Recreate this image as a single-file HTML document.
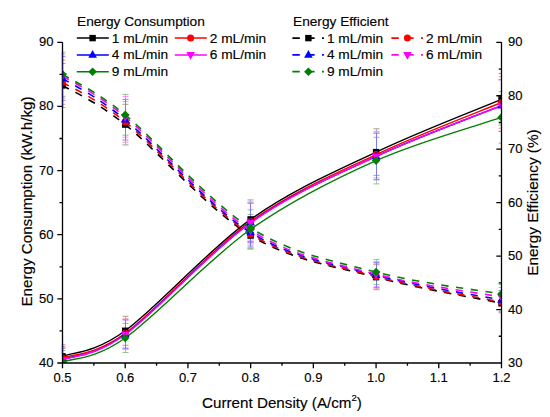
<!DOCTYPE html><html><head><meta charset="utf-8"><style>html,body{margin:0;padding:0;background:#fff;overflow:hidden;}svg{display:block;}text{font-family:"Liberation Sans",sans-serif;stroke:#000;stroke-width:0.15px;}</style></head><body>
<svg width="550" height="417" viewBox="0 0 550 417">
<rect width="550" height="417" fill="#fff"/>
<defs><clipPath id="pc"><rect x="62.5" y="0" width="439" height="363"/></clipPath></defs>
<g clip-path="url(#pc)">
<path d="M62.50,344.80 V367.80" stroke="#a0a0a0" stroke-width="0.8" fill="none"/><path d="M59.50,344.80 H65.50 M59.50,367.80 H65.50" stroke="#a0a0a0" stroke-width="1" fill="none"/>
<path d="M62.50,63.45 V107.45" stroke="#a0a0a0" stroke-width="0.8" fill="none"/><path d="M59.50,63.45 H65.50 M59.50,107.45 H65.50" stroke="#a0a0a0" stroke-width="1" fill="none"/>
<path d="M125.50,316.25 V345.25" stroke="#a0a0a0" stroke-width="0.8" fill="none"/><path d="M122.50,316.25 H128.50 M122.50,345.25 H128.50" stroke="#a0a0a0" stroke-width="1" fill="none"/>
<path d="M125.50,104.30 V144.90" stroke="#a0a0a0" stroke-width="0.8" fill="none"/><path d="M122.50,104.30 H128.50 M122.50,144.90 H128.50" stroke="#a0a0a0" stroke-width="1" fill="none"/>
<path d="M250.50,199.90 V238.90" stroke="#a0a0a0" stroke-width="0.8" fill="none"/><path d="M247.50,199.90 H253.50 M247.50,238.90 H253.50" stroke="#a0a0a0" stroke-width="1" fill="none"/>
<path d="M250.50,222.00 V249.00" stroke="#a0a0a0" stroke-width="0.8" fill="none"/><path d="M247.50,222.00 H253.50 M247.50,249.00 H253.50" stroke="#a0a0a0" stroke-width="1" fill="none"/>
<path d="M376.50,128.80 V175.40" stroke="#a0a0a0" stroke-width="0.8" fill="none"/><path d="M373.50,128.80 H379.50 M373.50,175.40 H379.50" stroke="#a0a0a0" stroke-width="1" fill="none"/>
<path d="M376.50,264.70 V289.70" stroke="#a0a0a0" stroke-width="0.8" fill="none"/><path d="M373.50,264.70 H379.50 M373.50,289.70 H379.50" stroke="#a0a0a0" stroke-width="1" fill="none"/>
<path d="M501.50,73.50 V125.10" stroke="#a0a0a0" stroke-width="0.8" fill="none"/><path d="M498.50,73.50 H504.50 M498.50,125.10 H504.50" stroke="#a0a0a0" stroke-width="1" fill="none"/>
<path d="M501.50,293.70 V312.70" stroke="#a0a0a0" stroke-width="0.8" fill="none"/><path d="M498.50,293.70 H504.50 M498.50,312.70 H504.50" stroke="#a0a0a0" stroke-width="1" fill="none"/>
<path d="M62.50,346.50 V369.50" stroke="#ff9898" stroke-width="0.8" fill="none"/><path d="M59.50,346.50 H65.50 M59.50,369.50 H65.50" stroke="#ff9898" stroke-width="1" fill="none"/>
<path d="M62.50,60.25 V104.25" stroke="#ff9898" stroke-width="0.8" fill="none"/><path d="M59.50,60.25 H65.50 M59.50,104.25 H65.50" stroke="#ff9898" stroke-width="1" fill="none"/>
<path d="M125.50,318.80 V347.80" stroke="#ff9898" stroke-width="0.8" fill="none"/><path d="M122.50,318.80 H128.50 M122.50,347.80 H128.50" stroke="#ff9898" stroke-width="1" fill="none"/>
<path d="M125.50,101.60 V142.20" stroke="#ff9898" stroke-width="0.8" fill="none"/><path d="M122.50,101.60 H128.50 M122.50,142.20 H128.50" stroke="#ff9898" stroke-width="1" fill="none"/>
<path d="M250.50,201.90 V240.90" stroke="#ff9898" stroke-width="0.8" fill="none"/><path d="M247.50,201.90 H253.50 M247.50,240.90 H253.50" stroke="#ff9898" stroke-width="1" fill="none"/>
<path d="M250.50,220.60 V247.60" stroke="#ff9898" stroke-width="0.8" fill="none"/><path d="M247.50,220.60 H253.50 M247.50,247.60 H253.50" stroke="#ff9898" stroke-width="1" fill="none"/>
<path d="M376.50,131.30 V177.90" stroke="#ff9898" stroke-width="0.8" fill="none"/><path d="M373.50,131.30 H379.50 M373.50,177.90 H379.50" stroke="#ff9898" stroke-width="1" fill="none"/>
<path d="M376.50,263.90 V288.90" stroke="#ff9898" stroke-width="0.8" fill="none"/><path d="M373.50,263.90 H379.50 M373.50,288.90 H379.50" stroke="#ff9898" stroke-width="1" fill="none"/>
<path d="M501.50,76.70 V128.30" stroke="#ff9898" stroke-width="0.8" fill="none"/><path d="M498.50,76.70 H504.50 M498.50,128.30 H504.50" stroke="#ff9898" stroke-width="1" fill="none"/>
<path d="M501.50,292.50 V311.50" stroke="#ff9898" stroke-width="0.8" fill="none"/><path d="M498.50,292.50 H504.50 M498.50,311.50 H504.50" stroke="#ff9898" stroke-width="1" fill="none"/>
<path d="M62.50,348.30 V371.30" stroke="#ff88ff" stroke-width="0.8" fill="none"/><path d="M59.50,348.30 H65.50 M59.50,371.30 H65.50" stroke="#ff88ff" stroke-width="1" fill="none"/>
<path d="M62.50,54.05 V98.05" stroke="#ff88ff" stroke-width="0.8" fill="none"/><path d="M59.50,54.05 H65.50 M59.50,98.05 H65.50" stroke="#ff88ff" stroke-width="1" fill="none"/>
<path d="M125.50,320.00 V349.00" stroke="#ff88ff" stroke-width="0.8" fill="none"/><path d="M122.50,320.00 H128.50 M122.50,349.00 H128.50" stroke="#ff88ff" stroke-width="1" fill="none"/>
<path d="M125.50,96.60 V137.20" stroke="#ff88ff" stroke-width="0.8" fill="none"/><path d="M122.50,96.60 H128.50 M122.50,137.20 H128.50" stroke="#ff88ff" stroke-width="1" fill="none"/>
<path d="M250.50,203.30 V242.30" stroke="#ff88ff" stroke-width="0.8" fill="none"/><path d="M247.50,203.30 H253.50 M247.50,242.30 H253.50" stroke="#ff88ff" stroke-width="1" fill="none"/>
<path d="M250.50,217.00 V244.00" stroke="#ff88ff" stroke-width="0.8" fill="none"/><path d="M247.50,217.00 H253.50 M247.50,244.00 H253.50" stroke="#ff88ff" stroke-width="1" fill="none"/>
<path d="M376.50,133.20 V179.80" stroke="#ff88ff" stroke-width="0.8" fill="none"/><path d="M373.50,133.20 H379.50 M373.50,179.80 H379.50" stroke="#ff88ff" stroke-width="1" fill="none"/>
<path d="M376.50,261.70 V286.70" stroke="#ff88ff" stroke-width="0.8" fill="none"/><path d="M373.50,261.70 H379.50 M373.50,286.70 H379.50" stroke="#ff88ff" stroke-width="1" fill="none"/>
<path d="M501.50,79.70 V131.30" stroke="#ff88ff" stroke-width="0.8" fill="none"/><path d="M498.50,79.70 H504.50 M498.50,131.30 H504.50" stroke="#ff88ff" stroke-width="1" fill="none"/>
<path d="M501.50,287.50 V306.50" stroke="#ff88ff" stroke-width="0.8" fill="none"/><path d="M498.50,287.50 H504.50 M498.50,306.50 H504.50" stroke="#ff88ff" stroke-width="1" fill="none"/>
<path d="M62.50,350.50 V373.50" stroke="#88c488" stroke-width="0.8" fill="none"/><path d="M59.50,350.50 H65.50 M59.50,373.50 H65.50" stroke="#88c488" stroke-width="1" fill="none"/>
<path d="M62.50,52.25 V96.25" stroke="#88c488" stroke-width="0.8" fill="none"/><path d="M59.50,52.25 H65.50 M59.50,96.25 H65.50" stroke="#88c488" stroke-width="1" fill="none"/>
<path d="M125.50,323.45 V352.45" stroke="#88c488" stroke-width="0.8" fill="none"/><path d="M122.50,323.45 H128.50 M122.50,352.45 H128.50" stroke="#88c488" stroke-width="1" fill="none"/>
<path d="M125.50,94.60 V135.20" stroke="#88c488" stroke-width="0.8" fill="none"/><path d="M122.50,94.60 H128.50 M122.50,135.20 H128.50" stroke="#88c488" stroke-width="1" fill="none"/>
<path d="M250.50,209.80 V248.80" stroke="#88c488" stroke-width="0.8" fill="none"/><path d="M247.50,209.80 H253.50 M247.50,248.80 H253.50" stroke="#88c488" stroke-width="1" fill="none"/>
<path d="M250.50,214.50 V241.50" stroke="#88c488" stroke-width="0.8" fill="none"/><path d="M247.50,214.50 H253.50 M247.50,241.50 H253.50" stroke="#88c488" stroke-width="1" fill="none"/>
<path d="M376.50,137.30 V183.90" stroke="#88c488" stroke-width="0.8" fill="none"/><path d="M373.50,137.30 H379.50 M373.50,183.90 H379.50" stroke="#88c488" stroke-width="1" fill="none"/>
<path d="M376.50,259.60 V284.60" stroke="#88c488" stroke-width="0.8" fill="none"/><path d="M373.50,259.60 H379.50 M373.50,284.60 H379.50" stroke="#88c488" stroke-width="1" fill="none"/>
<path d="M501.50,91.60 V143.20" stroke="#88c488" stroke-width="0.8" fill="none"/><path d="M498.50,91.60 H504.50 M498.50,143.20 H504.50" stroke="#88c488" stroke-width="1" fill="none"/>
<path d="M501.50,284.50 V303.50" stroke="#88c488" stroke-width="0.8" fill="none"/><path d="M498.50,284.50 H504.50 M498.50,303.50 H504.50" stroke="#88c488" stroke-width="1" fill="none"/>
<path d="M62.50,348.10 V371.10" stroke="#6c6cff" stroke-width="0.8" fill="none"/><path d="M59.50,348.10 H65.50 M59.50,371.10 H65.50" stroke="#8888ff" stroke-width="1" fill="none"/>
<path d="M62.50,56.35 V100.35" stroke="#6c6cff" stroke-width="0.8" fill="none"/><path d="M59.50,56.35 H65.50 M59.50,100.35 H65.50" stroke="#8888ff" stroke-width="1" fill="none"/>
<path d="M125.50,319.80 V348.80" stroke="#6c6cff" stroke-width="0.8" fill="none"/><path d="M122.50,319.80 H128.50 M122.50,348.80 H128.50" stroke="#8888ff" stroke-width="1" fill="none"/>
<path d="M125.50,99.40 V140.00" stroke="#6c6cff" stroke-width="0.8" fill="none"/><path d="M122.50,99.40 H128.50 M122.50,140.00 H128.50" stroke="#8888ff" stroke-width="1" fill="none"/>
<path d="M250.50,203.10 V242.10" stroke="#6c6cff" stroke-width="0.8" fill="none"/><path d="M247.50,203.10 H253.50 M247.50,242.10 H253.50" stroke="#8888ff" stroke-width="1" fill="none"/>
<path d="M250.50,219.00 V246.00" stroke="#6c6cff" stroke-width="0.8" fill="none"/><path d="M247.50,219.00 H253.50 M247.50,246.00 H253.50" stroke="#8888ff" stroke-width="1" fill="none"/>
<path d="M376.50,133.10 V179.70" stroke="#6c6cff" stroke-width="0.8" fill="none"/><path d="M373.50,133.10 H379.50 M373.50,179.70 H379.50" stroke="#8888ff" stroke-width="1" fill="none"/>
<path d="M376.50,262.60 V287.60" stroke="#6c6cff" stroke-width="0.8" fill="none"/><path d="M373.50,262.60 H379.50 M373.50,287.60 H379.50" stroke="#8888ff" stroke-width="1" fill="none"/>
<path d="M501.50,79.80 V131.40" stroke="#6c6cff" stroke-width="0.8" fill="none"/><path d="M498.50,79.80 H504.50 M498.50,131.40 H504.50" stroke="#8888ff" stroke-width="1" fill="none"/>
<path d="M501.50,290.50 V309.50" stroke="#6c6cff" stroke-width="0.8" fill="none"/><path d="M498.50,290.50 H504.50 M498.50,309.50 H504.50" stroke="#8888ff" stroke-width="1" fill="none"/>
<path d="M62.50,356.30 C72.95,352.04 93.86,353.57 125.21,330.75 C156.57,307.93 208.83,249.18 250.64,219.40 C292.45,189.62 334.26,172.12 376.07,152.10 C417.88,132.08 480.59,108.10 501.50,99.30" stroke="#000000" stroke-width="1.4" fill="none"/>
<path d="M62.50,85.45 C72.95,91.97 93.86,99.59 125.21,124.60 C156.57,149.61 208.83,210.07 250.64,235.50 C292.45,260.93 334.26,265.92 376.07,277.20 C417.88,288.48 480.59,298.87 501.50,303.20" stroke="#000000" stroke-width="1.6" fill="none" stroke-dasharray="7.4 7.4"/>
<path d="M62.50,358.00 C72.95,353.88 93.86,356.07 125.21,333.30 C156.57,310.53 208.83,251.18 250.64,221.40 C292.45,191.62 334.26,174.42 376.07,154.60 C417.88,134.78 480.59,111.18 501.50,102.50" stroke="#ff0000" stroke-width="1.4" fill="none"/>
<path d="M62.50,82.25 C72.95,88.86 93.86,96.59 125.21,121.90 C156.57,147.21 208.83,208.35 250.64,234.10 C292.45,259.85 334.26,265.08 376.07,276.40 C417.88,287.72 480.59,297.73 501.50,302.00" stroke="#ff0000" stroke-width="1.6" fill="none" stroke-dasharray="7.4 7.4"/>
<path d="M62.50,359.60 C72.95,355.38 93.86,357.13 125.21,334.30 C156.57,311.47 208.83,252.25 250.64,222.60 C292.45,192.95 334.26,175.90 376.07,156.40 C417.88,136.90 480.59,114.07 501.50,105.60" stroke="#0000ff" stroke-width="1.4" fill="none"/>
<path d="M62.50,78.35 C72.95,85.24 93.86,94.01 125.21,119.70 C156.57,145.39 208.83,206.60 250.64,232.50 C292.45,258.40 334.26,263.85 376.07,275.10 C417.88,286.35 480.59,295.85 501.50,300.00" stroke="#0000ff" stroke-width="1.6" fill="none" stroke-dasharray="7.4 7.4"/>
<path d="M62.50,359.80 C72.95,355.58 93.86,357.33 125.21,334.50 C156.57,311.67 208.83,252.47 250.64,222.80 C292.45,193.13 334.26,176.05 376.07,156.50 C417.88,136.95 480.59,114.00 501.50,105.50" stroke="#ff00ff" stroke-width="1.4" fill="none"/>
<path d="M62.50,76.05 C72.95,82.86 93.86,91.16 125.21,116.90 C156.57,142.64 208.83,204.28 250.64,230.50 C292.45,256.72 334.26,263.12 376.07,274.20 C417.88,285.28 480.59,293.20 501.50,297.00" stroke="#ff00ff" stroke-width="1.6" fill="none" stroke-dasharray="7.4 7.4"/>
<path d="M62.50,362.00 C72.95,357.99 93.86,360.07 125.21,337.95 C156.57,315.83 208.83,258.86 250.64,229.30 C292.45,199.74 334.26,179.25 376.07,160.60 C417.88,141.95 480.59,124.60 501.50,117.40" stroke="#008000" stroke-width="1.4" fill="none"/>
<path d="M62.50,74.25 C72.95,81.03 93.86,89.28 125.21,114.90 C156.57,140.53 208.83,201.80 250.64,228.00 C292.45,254.20 334.26,261.10 376.07,272.10 C417.88,283.10 480.59,290.35 501.50,294.00" stroke="#008000" stroke-width="1.6" fill="none" stroke-dasharray="7.4 7.4"/>
<rect x="59.30" y="353.10" width="6.40" height="6.40" fill="#000000"/>
<rect x="59.30" y="82.25" width="6.40" height="6.40" fill="#000000"/>
<rect x="122.01" y="327.55" width="6.40" height="6.40" fill="#000000"/>
<rect x="122.01" y="121.40" width="6.40" height="6.40" fill="#000000"/>
<rect x="247.44" y="216.20" width="6.40" height="6.40" fill="#000000"/>
<rect x="247.44" y="232.30" width="6.40" height="6.40" fill="#000000"/>
<rect x="372.87" y="148.90" width="6.40" height="6.40" fill="#000000"/>
<rect x="372.87" y="274.00" width="6.40" height="6.40" fill="#000000"/>
<rect x="498.30" y="96.10" width="6.40" height="6.40" fill="#000000"/>
<rect x="498.30" y="300.00" width="6.40" height="6.40" fill="#000000"/>
<circle cx="62.50" cy="358.00" r="3.50" fill="#ff0000"/>
<circle cx="62.50" cy="82.25" r="3.50" fill="#ff0000"/>
<circle cx="125.21" cy="333.30" r="3.50" fill="#ff0000"/>
<circle cx="125.21" cy="121.90" r="3.50" fill="#ff0000"/>
<circle cx="250.64" cy="221.40" r="3.50" fill="#ff0000"/>
<circle cx="250.64" cy="234.10" r="3.50" fill="#ff0000"/>
<circle cx="376.07" cy="154.60" r="3.50" fill="#ff0000"/>
<circle cx="376.07" cy="276.40" r="3.50" fill="#ff0000"/>
<circle cx="501.50" cy="102.50" r="3.50" fill="#ff0000"/>
<circle cx="501.50" cy="302.00" r="3.50" fill="#ff0000"/>
<path d="M62.50,354.80 L66.80,362.40 L58.20,362.40 Z" fill="#0000ff"/>
<path d="M62.50,73.55 L66.80,81.15 L58.20,81.15 Z" fill="#0000ff"/>
<path d="M125.21,329.50 L129.51,337.10 L120.91,337.10 Z" fill="#0000ff"/>
<path d="M125.21,114.90 L129.51,122.50 L120.91,122.50 Z" fill="#0000ff"/>
<path d="M250.64,217.80 L254.94,225.40 L246.34,225.40 Z" fill="#0000ff"/>
<path d="M250.64,227.70 L254.94,235.30 L246.34,235.30 Z" fill="#0000ff"/>
<path d="M376.07,151.60 L380.37,159.20 L371.77,159.20 Z" fill="#0000ff"/>
<path d="M376.07,270.30 L380.37,277.90 L371.77,277.90 Z" fill="#0000ff"/>
<path d="M501.50,100.80 L505.80,108.40 L497.20,108.40 Z" fill="#0000ff"/>
<path d="M501.50,295.20 L505.80,302.80 L497.20,302.80 Z" fill="#0000ff"/>
<path d="M62.50,364.60 L66.80,357.00 L58.20,357.00 Z" fill="#ff00ff"/>
<path d="M62.50,80.85 L66.80,73.25 L58.20,73.25 Z" fill="#ff00ff"/>
<path d="M125.21,339.30 L129.51,331.70 L120.91,331.70 Z" fill="#ff00ff"/>
<path d="M125.21,121.70 L129.51,114.10 L120.91,114.10 Z" fill="#ff00ff"/>
<path d="M250.64,227.60 L254.94,220.00 L246.34,220.00 Z" fill="#ff00ff"/>
<path d="M250.64,235.30 L254.94,227.70 L246.34,227.70 Z" fill="#ff00ff"/>
<path d="M376.07,161.30 L380.37,153.70 L371.77,153.70 Z" fill="#ff00ff"/>
<path d="M376.07,279.00 L380.37,271.40 L371.77,271.40 Z" fill="#ff00ff"/>
<path d="M501.50,110.30 L505.80,102.70 L497.20,102.70 Z" fill="#ff00ff"/>
<path d="M501.50,301.80 L505.80,294.20 L497.20,294.20 Z" fill="#ff00ff"/>
<path d="M62.50,357.70 L66.80,362.00 L62.50,366.30 L58.20,362.00 Z" fill="#008000"/>
<path d="M62.50,69.95 L66.80,74.25 L62.50,78.55 L58.20,74.25 Z" fill="#008000"/>
<path d="M125.21,333.65 L129.51,337.95 L125.21,342.25 L120.91,337.95 Z" fill="#008000"/>
<path d="M125.21,110.60 L129.51,114.90 L125.21,119.20 L120.91,114.90 Z" fill="#008000"/>
<path d="M250.64,225.00 L254.94,229.30 L250.64,233.60 L246.34,229.30 Z" fill="#008000"/>
<path d="M250.64,223.70 L254.94,228.00 L250.64,232.30 L246.34,228.00 Z" fill="#008000"/>
<path d="M376.07,156.30 L380.37,160.60 L376.07,164.90 L371.77,160.60 Z" fill="#008000"/>
<path d="M376.07,267.80 L380.37,272.10 L376.07,276.40 L371.77,272.10 Z" fill="#008000"/>
<path d="M501.50,113.10 L505.80,117.40 L501.50,121.70 L497.20,117.40 Z" fill="#008000"/>
<path d="M501.50,289.70 L505.80,294.00 L501.50,298.30 L497.20,294.00 Z" fill="#008000"/>
</g>
<path d="M62.5,42.3 V363 H501.5 V42.3 M57.3,363.00 H62.5 M57.3,298.86 H62.5 M57.3,234.72 H62.5 M57.3,170.58 H62.5 M57.3,106.44 H62.5 M57.3,42.30 H62.5 M59.5,330.93 H62.5 M59.5,266.79 H62.5 M59.5,202.65 H62.5 M59.5,138.51 H62.5 M59.5,74.37 H62.5 M496.3,363.00 H501.5 M496.3,309.55 H501.5 M496.3,256.10 H501.5 M496.3,202.65 H501.5 M496.3,149.20 H501.5 M496.3,95.75 H501.5 M496.3,42.30 H501.5 M498.7,336.27 H501.5 M498.7,282.82 H501.5 M498.7,229.38 H501.5 M498.7,175.93 H501.5 M498.7,122.48 H501.5 M498.7,69.03 H501.5 M62.50,363 V368.3 M125.21,363 V368.3 M187.93,363 V368.3 M250.64,363 V368.3 M313.36,363 V368.3 M376.07,363 V368.3 M438.78,363 V368.3 M501.50,363 V368.3 M93.86,363 V365.8 M156.57,363 V365.8 M219.28,363 V365.8 M282.00,363 V365.8 M344.71,363 V365.8 M407.43,363 V365.8 M470.14,363 V365.8" stroke="#000" stroke-width="1.3" fill="none"/>
<path d="M62.5,52 V107 M62.5,345 V354" stroke="#18124e" stroke-width="1.3" fill="none"/>
<text x="53.5" y="367.00" font-size="13" text-anchor="end">40</text>
<text x="53.5" y="302.86" font-size="13" text-anchor="end">50</text>
<text x="53.5" y="238.72" font-size="13" text-anchor="end">60</text>
<text x="53.5" y="174.58" font-size="13" text-anchor="end">70</text>
<text x="53.5" y="110.44" font-size="13" text-anchor="end">80</text>
<text x="53.5" y="46.30" font-size="13" text-anchor="end">90</text>
<text x="508" y="367.00" font-size="13">30</text>
<text x="508" y="313.55" font-size="13">40</text>
<text x="508" y="260.10" font-size="13">50</text>
<text x="508" y="206.65" font-size="13">60</text>
<text x="508" y="153.20" font-size="13">70</text>
<text x="508" y="99.75" font-size="13">80</text>
<text x="508" y="46.30" font-size="13">90</text>
<text x="62.50" y="382.3" font-size="13" text-anchor="middle">0.5</text>
<text x="125.21" y="382.3" font-size="13" text-anchor="middle">0.6</text>
<text x="187.93" y="382.3" font-size="13" text-anchor="middle">0.7</text>
<text x="250.64" y="382.3" font-size="13" text-anchor="middle">0.8</text>
<text x="313.36" y="382.3" font-size="13" text-anchor="middle">0.9</text>
<text x="376.07" y="382.3" font-size="13" text-anchor="middle">1.0</text>
<text x="438.78" y="382.3" font-size="13" text-anchor="middle">1.1</text>
<text x="501.50" y="382.3" font-size="13" text-anchor="middle">1.2</text>
<text x="282" y="407.5" font-size="15.2" text-anchor="middle">Current Density (A/cm<tspan font-size="9.6" dy="-7">2</tspan><tspan dy="7">)</tspan></text>
<text transform="translate(32,201.5) rotate(-90)" font-size="15.2" text-anchor="middle">Energy Consumption (kW.h/kg)</text>
<text transform="translate(538,202.5) rotate(-90)" font-size="15.35" text-anchor="middle">Energy Efficiency (%)</text>
<text x="77" y="25.5" font-size="13.7">Energy Consumption</text>
<text x="293" y="25.5" font-size="13.7">Energy Efficient</text>
<path d="M76.80,38.10 H108.80" stroke="#000000" stroke-width="1.5"/>
<rect x="89.40" y="34.90" width="6.40" height="6.40" fill="#000000"/>
<text x="111.80" y="42.50" font-size="13.7">1 mL/min</text>
<path d="M292.40,38.10 H323.90" stroke="#000000" stroke-width="1.8" stroke-dasharray="7.4 7.4"/>
<rect x="305.20" y="34.90" width="6.40" height="6.40" fill="#000000"/>
<text x="326.90" y="42.50" font-size="13.7">1 mL/min</text>
<path d="M174.80,38.10 H206.80" stroke="#ff0000" stroke-width="1.5"/>
<circle cx="190.60" cy="38.10" r="3.50" fill="#ff0000"/>
<text x="209.80" y="42.50" font-size="13.7">2 mL/min</text>
<path d="M391.40,38.10 H422.90" stroke="#ff0000" stroke-width="1.8" stroke-dasharray="7.4 7.4"/>
<circle cx="407.40" cy="38.10" r="3.50" fill="#ff0000"/>
<text x="425.90" y="42.50" font-size="13.7">2 mL/min</text>
<path d="M76.80,54.90 H108.80" stroke="#0000ff" stroke-width="1.5"/>
<path d="M92.60,50.10 L96.90,57.70 L88.30,57.70 Z" fill="#0000ff"/>
<text x="111.80" y="59.30" font-size="13.7">4 mL/min</text>
<path d="M292.40,54.90 H323.90" stroke="#0000ff" stroke-width="1.8" stroke-dasharray="7.4 7.4"/>
<path d="M308.40,50.10 L312.70,57.70 L304.10,57.70 Z" fill="#0000ff"/>
<text x="326.90" y="59.30" font-size="13.7">4 mL/min</text>
<path d="M174.80,54.90 H206.80" stroke="#ff00ff" stroke-width="1.5"/>
<path d="M190.60,59.70 L194.90,52.10 L186.30,52.10 Z" fill="#ff00ff"/>
<text x="209.80" y="59.30" font-size="13.7">6 mL/min</text>
<path d="M391.40,54.90 H422.90" stroke="#ff00ff" stroke-width="1.8" stroke-dasharray="7.4 7.4"/>
<path d="M407.40,59.70 L411.70,52.10 L403.10,52.10 Z" fill="#ff00ff"/>
<text x="425.90" y="59.30" font-size="13.7">6 mL/min</text>
<path d="M76.80,71.70 H108.80" stroke="#008000" stroke-width="1.5"/>
<path d="M92.60,67.40 L96.90,71.70 L92.60,76.00 L88.30,71.70 Z" fill="#008000"/>
<text x="111.80" y="76.10" font-size="13.7">9 mL/min</text>
<path d="M292.40,71.70 H323.90" stroke="#008000" stroke-width="1.8" stroke-dasharray="7.4 7.4"/>
<path d="M308.40,67.40 L312.70,71.70 L308.40,76.00 L304.10,71.70 Z" fill="#008000"/>
<text x="326.90" y="76.10" font-size="13.7">9 mL/min</text>
</svg></body></html>
